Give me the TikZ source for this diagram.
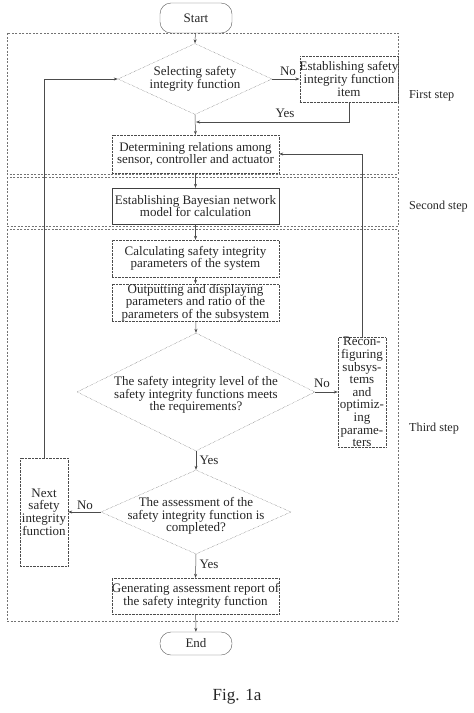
\documentclass[tikz,border=0pt]{standalone}
\usepackage{fontspec}
\setmainfont{Liberation Serif}
\usetikzlibrary{arrows.meta,shapes.geometric}
\begin{document}
\begin{tikzpicture}[x=1pt,y=-1pt,
  every node/.style={font=\fontsize{13}{12.6}\selectfont, text=black!85},
  proc/.style={draw=black!70, densely dotted, minimum width=167pt, inner sep=0pt},
  solidproc/.style={draw=black!75, minimum width=167pt, inner sep=0pt},
  term/.style={draw=black!65, rounded corners=11pt, minimum width=72pt, inner sep=0pt},
  dia/.style={draw=black!70, densely dotted, shape=diamond, aspect=2, inner sep=0pt},
  txt/.style={align=center, inner sep=0pt},
  region/.style={draw=black!55, dash pattern=on 2pt off 1.5pt},
  conn/.style={draw=black!70, line width=0.5pt},
  arr/.style={conn, -{Stealth[length=4pt,width=3pt]}},
  lab/.style={inner sep=1pt},
  side/.style={anchor=west, inner sep=0pt, font=\fontsize{12.2}{14}\selectfont}]
\useasboundingbox (0,0) rectangle (474,713);
% regions
\draw[region] (7,33) rectangle (398,174);
\draw[region] (7,177) rectangle (398,226);
\draw[region] (7,229) rectangle (398,621);
\node[side] (s1) at (409,96) {First step};
\node[side] (s2) at (409,207) {Second step};
\node[side] (s3) at (409,429) {Third step};
% nodes
\node[term, minimum height=30pt] (start) at (196,18) {Start};
\node[dia, minimum width=154pt, minimum height=71pt] (d1) at (195,79) {};
\node[txt] (d1t) at (195,79) {Selecting safety\\integrity function};
\node[proc, minimum width=96pt, minimum height=46pt, txt, draw] (est) at (349,79) {Establishing safety\\integrity function\\item};
\node[proc, minimum height=38pt, align=center] (det) at (195.5,154) {Determining relations among\\sensor, controller and actuator};
\node[solidproc, minimum height=36pt, align=center] (bay) at (195.5,206) {Establishing Bayesian network\\model for calculation};
\node[proc, minimum height=37pt, align=center] (calc) at (195.5,258.5) {Calculating safety integrity\\parameters of the system};
\node[proc, minimum height=37pt, align=center] (out) at (195.5,302.5) {Outputting and displaying\\parameters and ratio of the\\parameters of the subsystem};
\node[dia, minimum width=238pt, minimum height=118pt] (d2) at (196,392) {};
\node[txt] (d2t) at (196,395) {The safety integrity level of the\\safety integrity functions meets\\the requirements?};
\node[proc, minimum width=48pt, minimum height=108pt, txt, draw] (rec) at (362,392) {Recon-\\figuring\\subsys-\\tems\\and\\optimiz-\\ing\\parame-\\ters};
\node[dia, minimum width=190pt, minimum height=84pt] (d3) at (196,512) {};
\node[txt] (d3t) at (196,516) {The assessment of the\\safety integrity function is\\completed?};
\node[proc, minimum width=48pt, minimum height=108pt, txt, draw] (next) at (44,512) {Next\\safety\\integrity\\function};
\node[proc, minimum height=36pt, align=center] (gen) at (195.5,596) {Generating assessment report of\\the safety integrity function};
\node[term, minimum height=23pt] (end) at (196,643.5) {End};
\node[font=\fontsize{17}{19}\selectfont] (fig) at (237,697) {Fig. 1a};
% connectors
\coordinate (j1) at (196,122);
\draw[arr] (start) -- (d1.north);
\draw[arr] (d1.east) -- (est.west);
\node[lab] (no1) at (288,71) {No};
\draw[arr] (est.south) |- (j1);
\node[lab] (yes1) at (285,113) {Yes};
\draw[arr] (d1.south) -- (det.north);
\draw[arr] (det) -- (bay);
\draw[arr] (bay) -- (calc);
\draw[arr] (calc) -- (out);
\draw[arr] (out) -- (d2.north);
\draw[arr] (d2.east) -- (rec.west);
\node[lab] (no2) at (322,383) {No};
\draw[arr] (rec.north) |- (det.east);
\draw[arr] (d2.south) -- (d3.north);
\node[lab] (yes2) at (209,460) {Yes};
\draw[arr] (d3.west) -- (next.east);
\node[lab] (no3) at (85,505) {No};
\draw[arr] (next.north) |- (d1.west);
\draw[arr] (d3.south) -- (gen.north);
\node[lab] (yes3) at (209,564) {Yes};
\draw[arr] (gen) -- (end);
\end{tikzpicture}
\end{document}
